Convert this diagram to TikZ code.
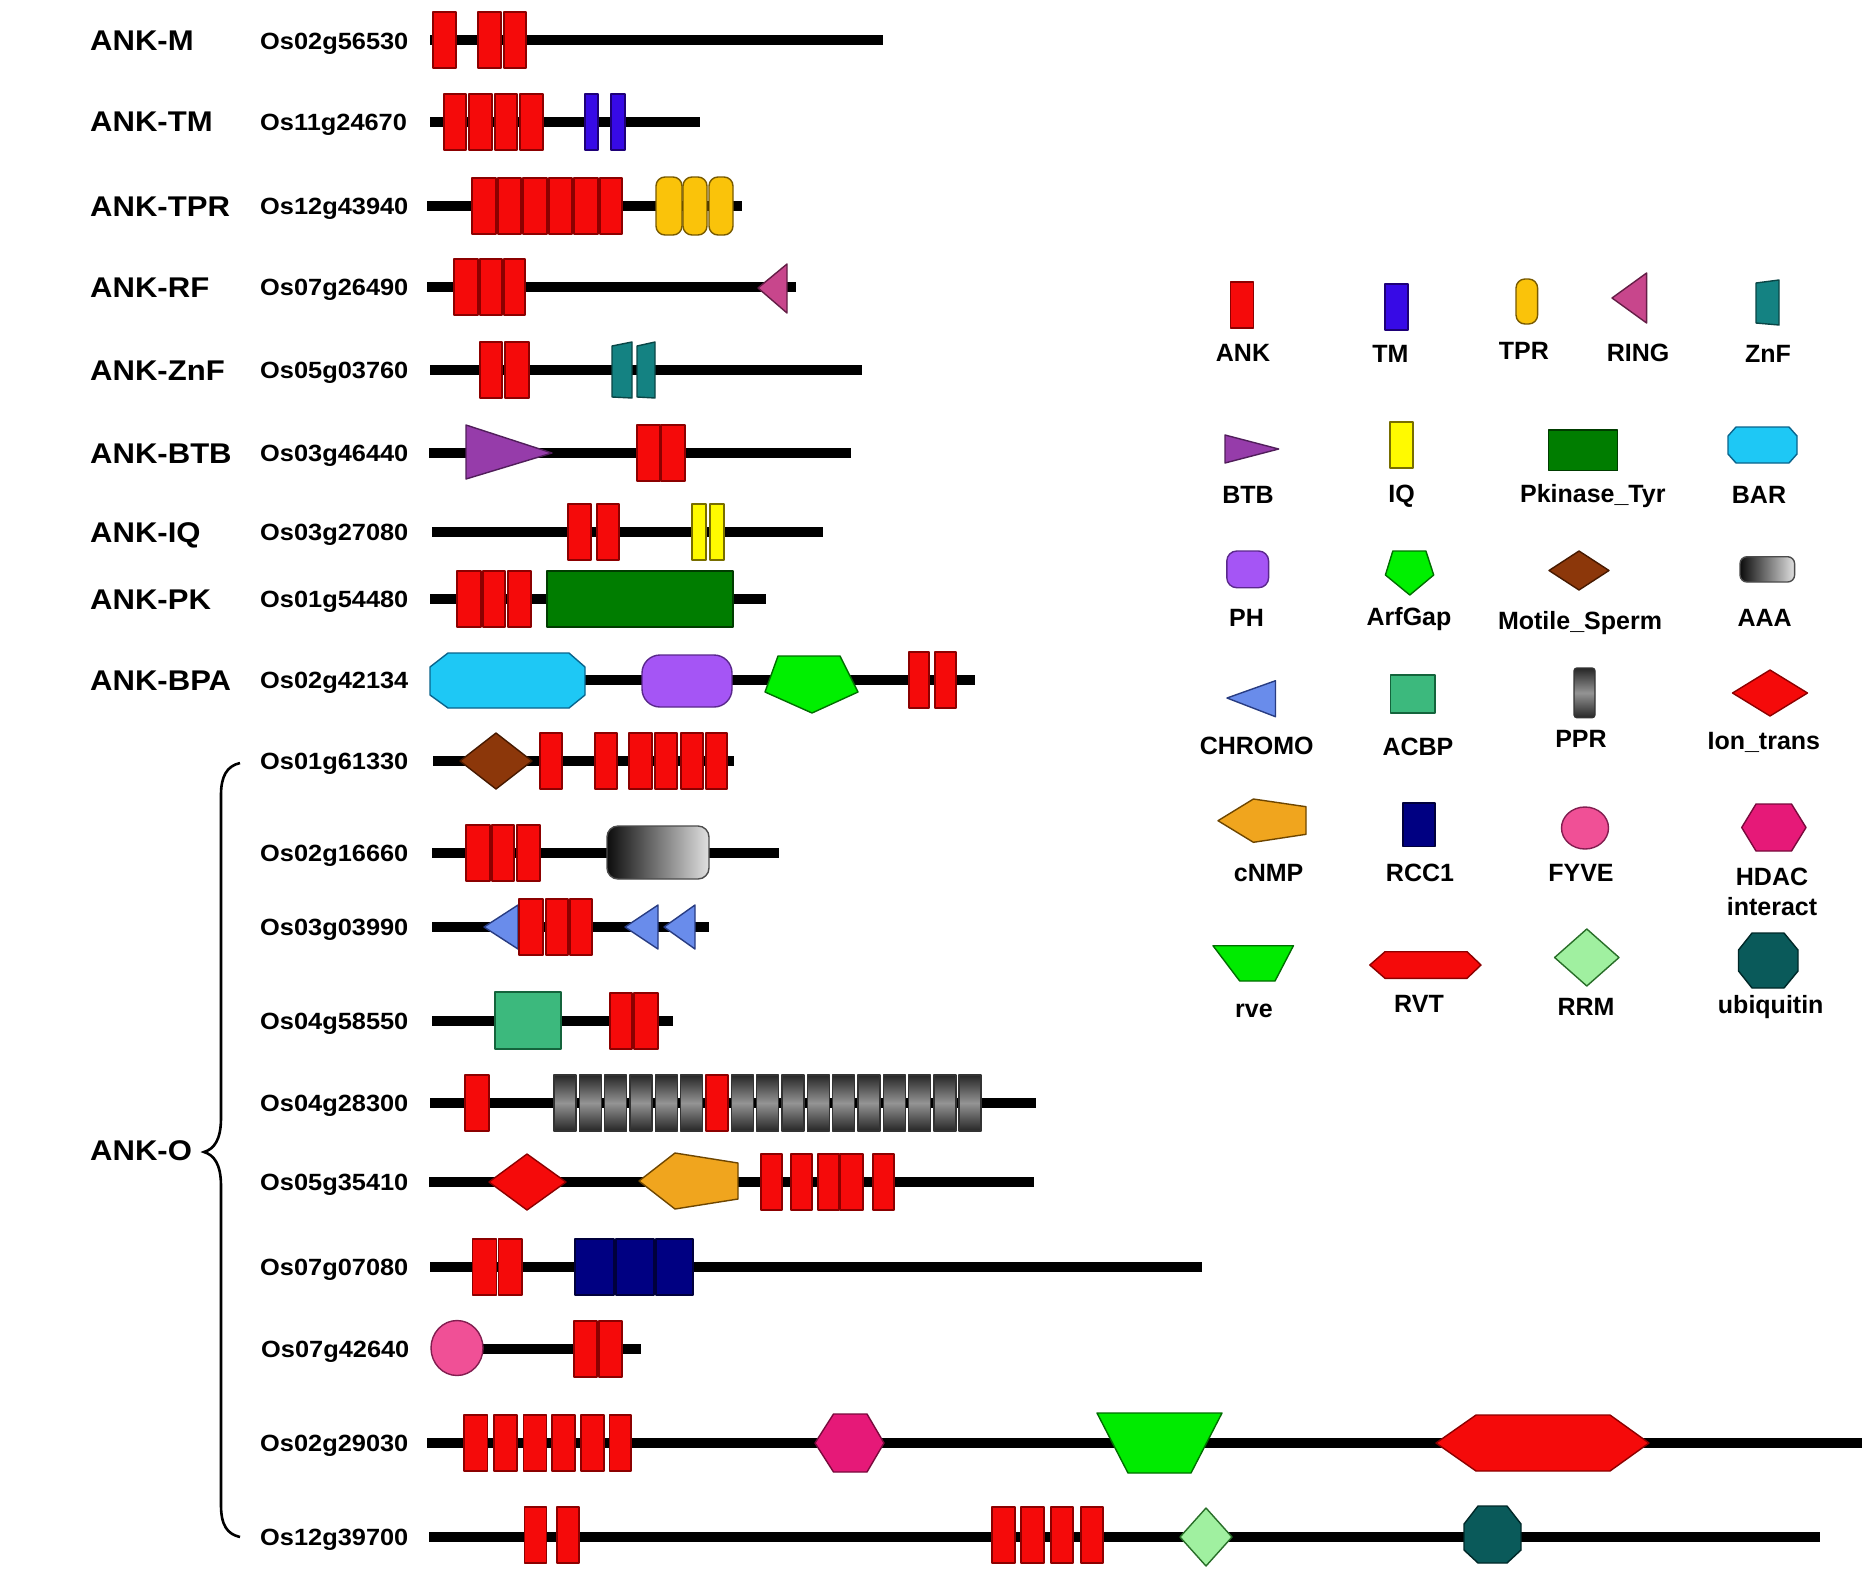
\documentclass[tikz,border=0pt]{standalone}
\usepackage{fontspec}
\setmainfont{Liberation Sans}
\newfontfamily\grpfont[FakeStretch=1.09]{Liberation Sans}
\newfontfamily\gidfont[FakeStretch=1.08]{Liberation Sans}
\usetikzlibrary{shapes.geometric}
\definecolor{ankred}{RGB}{245,10,10}\definecolor{ankedge}{RGB}{140,0,0}
\definecolor{tmc}{RGB}{55,10,230}\definecolor{tme}{RGB}{30,0,120}
\definecolor{tprc}{RGB}{250,195,10}\definecolor{tpre}{RGB}{120,90,0}
\definecolor{ringc}{RGB}{200,70,140}\definecolor{ringe}{RGB}{100,30,70}
\definecolor{znfc}{RGB}{20,130,130}\definecolor{znfe}{RGB}{10,70,70}
\definecolor{btbc}{RGB}{150,60,170}\definecolor{btbe}{RGB}{80,30,90}
\definecolor{iqc}{RGB}{255,250,0}\definecolor{iqe}{RGB}{120,110,0}
\definecolor{pkc}{RGB}{0,125,0}\definecolor{pke}{RGB}{0,60,0}
\definecolor{barc}{RGB}{30,200,245}\definecolor{bare}{RGB}{10,100,140}
\definecolor{phc}{RGB}{165,85,245}\definecolor{phe}{RGB}{90,40,140}
\definecolor{arfc}{RGB}{0,240,0}\definecolor{arfe}{RGB}{0,110,0}
\definecolor{motc}{RGB}{140,55,10}\definecolor{mote}{RGB}{70,25,0}
\definecolor{chrc}{RGB}{105,140,235}\definecolor{chre}{RGB}{40,60,130}
\definecolor{acbc}{RGB}{60,185,125}\definecolor{acbe}{RGB}{20,100,60}
\definecolor{cnmc}{RGB}{240,165,30}\definecolor{cnme}{RGB}{110,70,0}
\definecolor{rccc}{RGB}{0,0,130}\definecolor{rcce}{RGB}{0,0,60}
\definecolor{fyvc}{RGB}{240,80,150}\definecolor{fyve}{RGB}{130,30,80}
\definecolor{hdac}{RGB}{230,25,120}\definecolor{hdae}{RGB}{120,10,60}
\definecolor{rvec}{RGB}{0,235,0}\definecolor{rvee}{RGB}{0,110,0}
\definecolor{rrmc}{RGB}{160,240,160}\definecolor{rrme}{RGB}{40,110,40}
\definecolor{ubqc}{RGB}{10,90,90}\definecolor{ubqe}{RGB}{0,40,40}
\tikzset{
  bb/.style={line width=9.5pt, black},
  dom/.style={line width=1.4pt, line join=round},
  ank/.style={dom, fill=ankred, draw=ankedge},
  tm/.style={dom, fill=tmc, draw=tme},
  tpr/.style={dom, fill=tprc, draw=tpre, rounded corners=9pt},
  ring/.style={dom, fill=ringc, draw=ringe},
  znf/.style={dom, fill=znfc, draw=znfe},
  btb/.style={dom, fill=btbc, draw=btbe},
  iq/.style={dom, fill=iqc, draw=iqe},
  pk/.style={dom, fill=pkc, draw=pke},
  bar/.style={dom, fill=barc, draw=bare},
  ph/.style={dom, fill=phc, draw=phe},
  arf/.style={dom, fill=arfc, draw=arfe},
  mot/.style={dom, fill=motc, draw=mote},
  aaa/.style={dom, left color=black!95, right color=black!12, draw=black!70},
  chromo/.style={dom, fill=chrc, draw=chre},
  acbp/.style={dom, fill=acbc, draw=acbe},
  ppr/.style={dom, top color=black!85, bottom color=black!85, middle color=black!42, draw=black!80},
  ion/.style={dom, fill=ankred, draw=ankedge},
  cnmp/.style={dom, fill=cnmc, draw=cnme},
  rcc/.style={dom, fill=rccc, draw=rcce},
  fyvest/.style={dom, fill=fyvc, draw=fyve},
  hdacst/.style={dom, fill=hdac, draw=hdae},
  rve/.style={dom, fill=rvec, draw=rvee},
  rvt/.style={dom, fill=ankred, draw=ankedge},
  rrm/.style={dom, fill=rrmc, draw=rrme},
  ubq/.style={dom, fill=ubqc, draw=ubqe},
  grp/.style={anchor=base west, inner sep=0pt, font=\grpfont\bfseries\fontsize{28.5}{30}\selectfont},
  gid/.style={anchor=base west, inner sep=0pt, font=\gidfont\bfseries\fontsize{23.5}{25}\selectfont},
  leg/.style={anchor=base, inner sep=0pt, font=\bfseries\fontsize{25}{27}\selectfont},
}
\newcommand\ankrow[2]{\foreach \a/\b in {#2}{\filldraw[ank] (\a,#1-28) rectangle (\b,#1+28);}}
\newcommand\barrow[3]{\foreach \a/\b in {#3}{\filldraw[#2] (\a,#1-28) rectangle (\b,#1+28);}}
\begin{document}
\begin{tikzpicture}[x=1pt,y=-1pt]
\useasboundingbox (0,0) rectangle (1871,1585);
\fill[white] (0,0) rectangle (1871,1585);

% ---------- group labels ----------
\node[grp] (gM)   at (90,50)  {ANK-M};
\node[grp] (gTM)  at (90,131) {ANK-TM};
\node[grp] (gTPR) at (90,216) {ANK-TPR};
\node[grp] (gRF)  at (90,297) {ANK-RF};
\node[grp] (gZnF) at (90,380) {ANK-ZnF};
\node[grp] (gBTB) at (90,463) {ANK-BTB};
\node[grp] (gIQ)  at (90,542) {ANK-IQ};
\node[grp] (gPK)  at (90,609) {ANK-PK};
\node[grp] (gBPA) at (90,690) {ANK-BPA};
\node[grp] (gO)   at (90,1160) {ANK-O};

% ---------- gene ids ----------
\node[gid] (i1)  at (260,49)   {Os02g56530};
\node[gid] (i2)  at (260,130)  {Os11g24670};
\node[gid] (i3)  at (260,214)  {Os12g43940};
\node[gid] (i4)  at (260,295)  {Os07g26490};
\node[gid] (i5)  at (260,378)  {Os05g03760};
\node[gid] (i6)  at (260,461)  {Os03g46440};
\node[gid] (i7)  at (260,540)  {Os03g27080};
\node[gid] (i8)  at (260,607)  {Os01g54480};
\node[gid] (i9)  at (260,688)  {Os02g42134};
\node[gid] (i10) at (260,769)  {Os01g61330};
\node[gid] (i11) at (260,861)  {Os02g16660};
\node[gid] (i12) at (260,935)  {Os03g03990};
\node[gid] (i13) at (260,1029) {Os04g58550};
\node[gid] (i14) at (260,1111) {Os04g28300};
\node[gid] (i15) at (260,1190) {Os05g35410};
\node[gid] (i16) at (260,1275) {Os07g07080};
\node[gid] (i17) at (261,1357) {Os07g42640};
\node[gid] (i18) at (260,1451) {Os02g29030};
\node[gid] (i19) at (260,1545) {Os12g39700};

% ---------- brace ----------
\draw[line width=2.6pt] (240,763) .. controls (227,766) and (221,776) .. (221,795)
  -- (221,1118) .. controls (221,1140) and (214,1149) .. (204,1152)
  .. controls (214,1155) and (221,1164) .. (221,1186)
  -- (221,1505) .. controls (221,1525) and (227,1534) .. (240,1537);

% ---------- row 1 ----------
\draw[bb] (430,40) -- (883,40);
\ankrow{40}{433/456,478/501,504/526}
% ---------- row 2 ----------
\draw[bb] (430,122) -- (700,122);
\ankrow{122}{444/466,469/492,495/517,520/543}
\barrow{122}{tm}{585/598,611/625}
% ---------- row 3 ----------
\draw[bb] (427,206) -- (742,206);
\ankrow{206}{472/496,498/521,523/547,549/572,574/598,600/622}
\foreach \a/\b in {656/682,683/707,709/733}{\filldraw[tpr] (\a,177) rectangle (\b,235);}
% ---------- row 4 ----------
\draw[bb] (427,287) -- (796,287);
\ankrow{287}{454/478,480/502,504/525}
\filldraw[ring] (758,288) -- (787,264) -- (787,313) -- cycle;
% ---------- row 5 ----------
\draw[bb] (430,370) -- (862,370);
\ankrow{370}{480/502,505/529}
\foreach \a/\b in {612/632,637/655}{\filldraw[znf] (\a,346) -- (\b,342) -- (\b,398) -- (\a,397) -- cycle;}
% ---------- row 6 ----------
\draw[bb] (429,453) -- (851,453);
\filldraw[btb] (466,425) -- (552,453) -- (466,479) -- cycle;
\ankrow{453}{637/660,661/685}
% ---------- row 7 ----------
\draw[bb] (432,532) -- (823,532);
\ankrow{532}{568/591,597/619}
\barrow{532}{iq}{692/706,710/724}
% ---------- row 8 ----------
\draw[bb] (430,599) -- (766,599);
\ankrow{599}{457/481,483/505,508/531}
\filldraw[pk] (547,571) rectangle (733,627);
% ---------- row 9 ----------
\draw[bb] (432,680) -- (975,680);
\filldraw[bar] (448,653) -- (569,653) -- (585,667) -- (585,695) -- (569,708) -- (448,708) -- (430,695) -- (430,667) -- cycle;
\filldraw[ph, rounded corners=18pt] (642,655) rectangle (732,707);
\filldraw[arf] (778,656) -- (840,656) -- (858,692) -- (812,713) -- (765,692) -- cycle;
\ankrow{680}{909/929,935/956}
% ---------- row 10 ----------
\draw[bb] (433,761) -- (734,761);
\filldraw[mot] (460,761) -- (496,733) -- (532,761) -- (496,789) -- cycle;
\ankrow{761}{540/562,595/617,629/652,655/677,681/703,706/727}
% ---------- row 11 ----------
\draw[bb] (432,853) -- (779,853);
\ankrow{853}{466/490,492/514,517/540}
\draw[aaa, rounded corners=11pt] (607,826) rectangle (709,879);
% ---------- row 12 ----------
\draw[bb] (432,927) -- (709,927);
\filldraw[chromo] (484,927) -- (518,905) -- (518,949) -- cycle;
\ankrow{927}{519/543,546/568,570/592}
\filldraw[chromo] (625,927) -- (658,905) -- (658,949) -- cycle;
\filldraw[chromo] (664,927) -- (695,905) -- (695,949) -- cycle;
% ---------- row 13 ----------
\draw[bb] (432,1021) -- (673,1021);
\filldraw[acbp] (495,992) rectangle (561,1049);
\ankrow{1021}{610/632,634/658}
% ---------- row 14 ----------
\draw[bb] (430,1103) -- (1036,1103);
\ankrow{1103}{465/489}
\foreach \i in {0,...,5,7,8,...,16}{\shadedraw[ppr] ({553.9+\i*25.33},1075) rectangle ({575.9+\i*25.33},1131);}
\filldraw[ank] (705.9,1075) rectangle (727.9,1131);
% ---------- row 15 ----------
\draw[bb] (429,1182) -- (1034,1182);
\filldraw[ion] (489,1182) -- (527,1154) -- (566,1182) -- (527,1210) -- cycle;
\filldraw[cnmp] (639,1181) -- (675,1153) -- (738,1163) -- (738,1199) -- (675,1209) -- cycle;
\ankrow{1182}{761/782,791/812,818/839,840/863,873/894}
% ---------- row 16 ----------
\draw[bb] (430,1267) -- (1202,1267);
\ankrow{1267}{472.5/496.6,498.7/521.8}
\barrow{1267}{rcc}{575/614,616/654,656/693}
% ---------- row 17 ----------
\draw[bb] (457,1349) -- (641,1349);
\filldraw[fyvest] (457,1348) ellipse [x radius=26, y radius=27.5];
\ankrow{1349}{574/597,599/622}
% ---------- row 18 ----------
\draw[bb] (427,1443) -- (1862,1443);
\ankrow{1443}{464/487.5,494/517,523.6/546.7,552/575,581/604,609.6/631}
\filldraw[hdacst] (815,1443) -- (833.5,1414) -- (867,1414) -- (884,1443) -- (867,1472) -- (833.5,1472) -- cycle;
\filldraw[rve] (1097,1413) -- (1222,1413) -- (1191,1473) -- (1128,1473) -- cycle;
\filldraw[rvt] (1436,1443) -- (1476,1415) -- (1610,1415) -- (1649,1443) -- (1610,1471) -- (1476,1471) -- cycle;
% ---------- row 19 ----------
\draw[bb] (429,1537) -- (1820,1537);
\ankrow{1535}{524.5/546.7,557/579,992/1015,1021/1044,1051/1073,1081/1103}
\filldraw[rrm] (1180,1537) -- (1206,1508) -- (1232,1537) -- (1206,1566) -- cycle;
\filldraw[ubq] (1478,1506) -- (1507,1506) -- (1521,1524) -- (1521,1550) -- (1507,1563) -- (1478,1563) -- (1464,1550) -- (1464,1524) -- cycle;

% ---------- legend shapes ----------
\filldraw[ank] (1230.5,282) rectangle (1253.4,328);
\filldraw[tm] (1385,284) rectangle (1408,330);
\filldraw[tpr] (1516,279) rectangle (1537.6,324);
\filldraw[ring] (1612,298) -- (1646.6,273) -- (1646.6,323) -- cycle;
\filldraw[znf] (1756,283) -- (1779,280) -- (1779,325) -- (1756,323) -- cycle;
\filldraw[btb] (1225,435) -- (1278.7,449) -- (1225,463) -- cycle;
\filldraw[iq] (1390,422) rectangle (1413,468);
\filldraw[pk] (1548.6,430) rectangle (1617.6,470.7);
\filldraw[bar] (1736,427) -- (1789,427) -- (1797,436) -- (1797,454) -- (1789,463) -- (1736,463) -- (1728,454) -- (1728,436) -- cycle;
\filldraw[ph, rounded corners=10pt] (1226.8,551) rectangle (1268.6,587.7);
\filldraw[arf] (1392.8,551) -- (1425.9,551) -- (1433.7,575) -- (1409.8,595) -- (1385.4,575) -- cycle;
\filldraw[mot] (1549,570.5) -- (1579,551) -- (1609,570.5) -- (1579,590) -- cycle;
\draw[aaa, rounded corners=7pt] (1740,556.7) rectangle (1794.6,582);
\filldraw[chromo] (1227,698) -- (1275.5,680.7) -- (1275.5,716.7) -- cycle;
\filldraw[acbp] (1390.5,675) rectangle (1435,713);
\shadedraw[ppr, rounded corners=3pt] (1574,668) rectangle (1595,717.7);
\filldraw[ion] (1732.5,693) -- (1770,670) -- (1807.5,693) -- (1770,716) -- cycle;
\filldraw[cnmp] (1218,820.7) -- (1253.4,799) -- (1306,806.7) -- (1306,834.3) -- (1253.4,842.3) -- cycle;
\filldraw[rcc] (1403,803) rectangle (1435,846.7);
\filldraw[fyvest] (1585,828) ellipse [x radius=23.5, y radius=21];
\filldraw[hdacst] (1741.7,827.5) -- (1756,804) -- (1791.5,804) -- (1806,827.5) -- (1791.5,851) -- (1756,851) -- cycle;
\filldraw[rve] (1213,945.7) -- (1293.4,945.7) -- (1275,981) -- (1239.7,981) -- cycle;
\filldraw[rvt] (1369.8,965) -- (1385,951.7) -- (1467,951.7) -- (1481,965) -- (1467,978.3) -- (1385,978.3) -- cycle;
\filldraw[rrm] (1554.6,957.5) -- (1586.8,929) -- (1619,957.5) -- (1586.8,986) -- cycle;
\filldraw[ubq] (1752,933) -- (1784,933) -- (1798,950) -- (1798,971) -- (1784,988) -- (1752,988) -- (1738.5,971) -- (1738.5,950) -- cycle;

% ---------- legend labels ----------
\node[leg] (lANK) at (1243,361) {ANK};
\node[leg] (lTM)  at (1390.5,362) {TM};
\node[leg] (lTPR) at (1523.8,359) {TPR};
\node[leg] (lRING) at (1638,361) {RING};
\node[leg] (lZnF) at (1768,362) {ZnF};
\node[leg] (lBTB) at (1248,503) {BTB};
\node[leg] (lIQ)  at (1401.5,502) {IQ};
\node[leg] (lPK)  at (1592.8,502) {Pkinase\_Tyr};
\node[leg] (lBAR) at (1759,503) {BAR};
\node[leg] (lPH)  at (1246.5,626) {PH};
\node[leg] (lArf) at (1409,625) {ArfGap};
\node[leg] (lMot) at (1580,629) {Motile\_Sperm};
\node[leg] (lAAA) at (1764.7,626) {AAA};
\node[leg] (lCHR) at (1256.7,754) {CHROMO};
\node[leg] (lACBP) at (1418,755) {ACBP};
\node[leg] (lPPR) at (1581,747) {PPR};
\node[leg] (lIon) at (1763.8,749) {Ion\_trans};
\node[leg] (lcNMP) at (1268.6,881) {cNMP};
\node[leg] (lRCC) at (1420,881) {RCC1};
\node[leg] (lFYVE) at (1581,881) {FYVE};
\node[leg] (lHDAC) at (1772,885) {HDAC};
\node[leg] (lint) at (1772,915) {interact};
\node[leg] (lrve) at (1254,1017) {rve};
\node[leg] (lRVT) at (1419,1012) {RVT};
\node[leg] (lRRM) at (1586,1015) {RRM};
\node[leg] (lubq) at (1770.7,1013) {ubiquitin};
\end{tikzpicture}
\end{document}
